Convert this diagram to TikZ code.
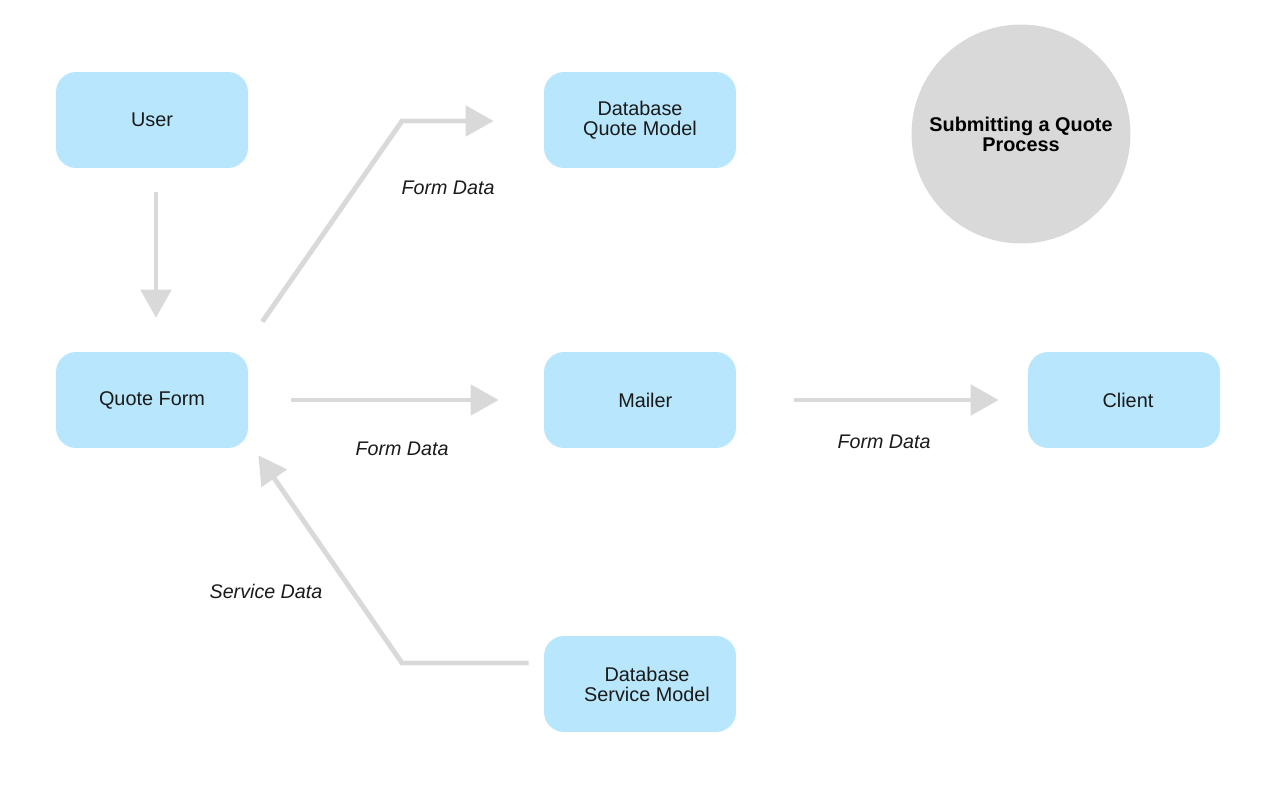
\documentclass[tikz,border=0pt]{standalone}
\usepackage{fontspec}
\setmainfont{Liberation Sans}
\usetikzlibrary{arrows.meta,positioning,calc}
\definecolor{boxblue}{HTML}{B8E6FC}
\definecolor{flowgray}{HTML}{D9D9D9}
\definecolor{inkgray}{HTML}{1A1A1A}

\begin{document}
\begin{tikzpicture}[x=0.02cm,y=-0.02cm,
  box/.style={draw=none,fill=boxblue,rounded corners=0.4cm,minimum width=3.84cm,
    minimum height=1.92cm,align=center,text=inkgray,font=\fontsize{11.3}{11.4}\selectfont},
  flow/.style={draw=flowgray,line width=2.8pt,-{Triangle[length=0.56cm,width=0.6cm]}},
  flowlabel/.style={font=\fontsize{11.2}{12}\selectfont\itshape,text=inkgray}]
\useasboundingbox (0,0) rectangle (1280,800);

% Boxes
\node[box] (user) at (152,120) {User};
\node[box] (qform) at (152,400) {Quote Form};
\node[box] (dbquote) at (640,120) {Database\\Quote Model};
\node[box] (mailer) at (640,400) {\hspace*{6pt}Mailer};
\node[box] (client) at (1124,400) {\hspace*{4.5pt}Client};
\node[box] (dbservice) at (640,684) {\hspace*{8pt}Database\\\hspace*{8pt}Service Model};

% Title circle
\node[circle,fill=flowgray,minimum size=4.38cm,align=center,text=black,
  font=\fontsize{11.3}{11.4}\selectfont\bfseries] (title) at (1021,134) {Submitting a Quote\\Process};

% Bends
\coordinate (bendup) at (402,121);
\coordinate (benddown) at (402,663);

% Arrows
\draw[flow,shorten <=0.48cm,shorten >=0.68cm] ([xshift=0.08cm]user.south) -- ([xshift=0.08cm]qform.north);
\draw[flow,shorten >=1cm] ($(qform.north east)+(14,-30)$) -- (bendup) -- ($(dbquote.west)+(0,1)$);
\draw[flow,shorten <=0.86cm,shorten >=0.9cm] (qform.east) -- (mailer.west);
\draw[flow,shorten <=1.16cm,shorten >=0.58cm] (mailer.east) -- (client.west);
\draw[flow,shorten <=0.3cm] ($(dbservice.west)+(0,-21)$) -- (benddown) -- ($(qform.south east)+(10,7)$);

% Labels
\node[flowlabel] (lquote) at (448,188) {Form Data};
\node[flowlabel] (lmailer) at (402,449) {Form Data};
\node[flowlabel] (lclient) at (884,442) {Form Data};
\node[flowlabel] (lservice) at (266,591) {Service Data};
\end{tikzpicture}
\end{document}
